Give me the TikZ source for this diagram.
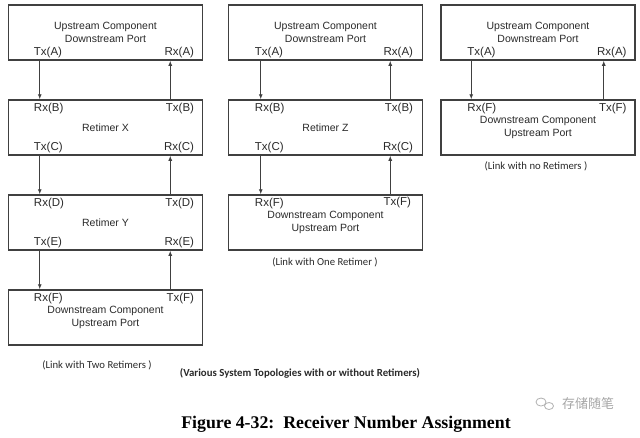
\documentclass[tikz,border=0pt]{standalone}
\usepackage{fontspec}
\setmainfont{Liberation Sans}
\newfontfamily\capfont{Carlito}
\newfontfamily\titlefont{Liberation Serif}
\newfontfamily\cjk{Noto Sans CJK SC}
\usetikzlibrary{arrows.meta,calc}
\definecolor{edge}{HTML}{404040}
\definecolor{ink}{HTML}{2A2A2A}
\tikzset{
  box/.style={draw=edge, line width=1.5pt, minimum width=194pt, minimum height=55pt,
    inner sep=0pt, align=center, text=ink, font=\fontsize{10.5}{13}\selectfont},
  lbl/.style={inner sep=0pt, text=ink, font=\fontsize{11.5}{13}\selectfont},
  arr/.style={draw=edge, line width=0.9pt, -{Latex[length=5pt,width=4pt]}},
  captxt/.style={inner sep=0pt, text=ink, font=\capfont\fontsize{10.7}{12}\selectfont},
}
\begin{document}
\begin{tikzpicture}[x=1pt,y=-1pt]
\useasboundingbox[fill=white] (0,0) rectangle (640,437);

% ---------- Left column: two retimers ----------
\node[box] (aup) at (105.5,32.5) {Upstream Component\\Downstream Port};
\node[box] (ax) at (105.5,127.5) {Retimer X};
\node[box] (ay) at (105.5,222.5) {Retimer Y};
\node[box] (adn) at (105.5,317.5) {Downstream Component\\Upstream Port};

\node[lbl,anchor=west] (aTxA) at ([xshift=26pt,yshift=8pt]aup.south west) {Tx(A)};
\node[lbl,anchor=east] (aRxA) at ([xshift=-9pt,yshift=8pt]aup.south east) {Rx(A)};
\node[lbl,anchor=west] (aRxB) at ([xshift=26pt,yshift=-9pt]ax.north west) {Rx(B)};
\node[lbl,anchor=east] (aTxB) at ([xshift=-9pt,yshift=-9pt]ax.north east) {Tx(B)};
\node[lbl,anchor=west] (aTxC) at ([xshift=26pt,yshift=8pt]ax.south west) {Tx(C)};
\node[lbl,anchor=east] (aRxC) at ([xshift=-9pt,yshift=8pt]ax.south east) {Rx(C)};
\node[lbl,anchor=west] (aRxD) at ([xshift=26pt,yshift=-9pt]ay.north west) {Rx(D)};
\node[lbl,anchor=east] (aTxD) at ([xshift=-9pt,yshift=-9pt]ay.north east) {Tx(D)};
\node[lbl,anchor=west] (aTxE) at ([xshift=26pt,yshift=8pt]ay.south west) {Tx(E)};
\node[lbl,anchor=east] (aRxE) at ([xshift=-9pt,yshift=8pt]ay.south east) {Rx(E)};
\node[lbl,anchor=west] (aRxF) at ([xshift=26pt,yshift=-9pt]adn.north west) {Rx(F)};
\node[lbl,anchor=east] (aTxF) at ([xshift=-9pt,yshift=-9pt]adn.north east) {Tx(F)};

\draw[arr] ([xshift=32pt]aup.south west) -- ([xshift=32pt]ax.north west);
\draw[arr] ([xshift=-33pt]ax.north east) -- ([xshift=-33pt]aup.south east);
\draw[arr] ([xshift=32pt]ax.south west) -- ([xshift=32pt]ay.north west);
\draw[arr] ([xshift=-33pt]ay.north east) -- ([xshift=-33pt]ax.south east);
\draw[arr] ([xshift=32pt]ay.south west) -- ([xshift=32pt]adn.north west);
\draw[arr] ([xshift=-33pt]adn.north east) -- ([xshift=-33pt]ay.south east);

\node[captxt] (acap) at (97,365) {(Link with Two Retimers )};

% ---------- Middle column: one retimer ----------
\node[box] (bup) at (325.5,32.5) {Upstream Component\\Downstream Port};
\node[box] (bz) at (325.5,127.5) {Retimer Z};
\node[box] (bdn) at (325.5,222.5) {Downstream Component\\Upstream Port};

\node[lbl,anchor=west] (bTxA) at ([xshift=27pt,yshift=8pt]bup.south west) {Tx(A)};
\node[lbl,anchor=east] (bRxA) at ([xshift=-10pt,yshift=8pt]bup.south east) {Rx(A)};
\node[lbl,anchor=west] (bRxB) at ([xshift=27pt,yshift=-9pt]bz.north west) {Rx(B)};
\node[lbl,anchor=east] (bTxB) at ([xshift=-10pt,yshift=-9pt]bz.north east) {Tx(B)};
\node[lbl,anchor=west] (bTxC) at ([xshift=27pt,yshift=8pt]bz.south west) {Tx(C)};
\node[lbl,anchor=east] (bRxC) at ([xshift=-10pt,yshift=8pt]bz.south east) {Rx(C)};
\node[lbl,anchor=west] (bRxF) at ([xshift=27pt,yshift=-9pt]bdn.north west) {Rx(F)};
\node[lbl,anchor=east] (bTxF) at ([xshift=-12pt,yshift=-8pt]bdn.north east) {Tx(F)};

\draw[arr] ([xshift=33pt]bup.south west) -- ([xshift=33pt]bz.north west);
\draw[arr] ([xshift=-33pt]bz.north east) -- ([xshift=-33pt]bup.south east);
\draw[arr] ([xshift=33pt]bz.south west) -- ([xshift=33pt]bdn.north west);
\draw[arr] ([xshift=-33pt]bdn.north east) -- ([xshift=-33pt]bz.south east);

\node[captxt] (bcap) at (325,262) {(Link with One Retimer )};

% ---------- Right column: no retimers ----------
\node[box] (cup) at (538,32.5) {Upstream Component\\Downstream Port};
\node[box] (cdn) at (538,127.5) {Downstream Component\\Upstream Port};

\node[lbl,anchor=west] (cTxA) at ([xshift=27pt,yshift=8pt]cup.south west) {Tx(A)};
\node[lbl,anchor=east] (cRxA) at ([xshift=-9pt,yshift=8pt]cup.south east) {Rx(A)};
\node[lbl,anchor=west] (cRxF) at ([xshift=27pt,yshift=-9pt]cdn.north west) {Rx(F)};
\node[lbl,anchor=east] (cTxF) at ([xshift=-9pt,yshift=-9pt]cdn.north east) {Tx(F)};

\draw[arr] ([xshift=31pt]cup.south west) -- ([xshift=31pt]cdn.north west);
\draw[arr] ([xshift=-32pt]cdn.north east) -- ([xshift=-32pt]cup.south east);

\node[captxt] (ccap) at (536,166) {(Link with no Retimers )};

% ---------- Captions ----------
\node[captxt,font=\capfont\bfseries\fontsize{10.8}{12}\selectfont] (topo) at (300,373)
  {(Various System Topologies with or without Retimers)};
\node[inner sep=0pt, text=black, font=\titlefont\bfseries\fontsize{17.8}{20}\selectfont] (title) at (346,424)
  {Figure 4-32:\ \ Receiver Number Assignment};

% ---------- Watermark ----------
\node[inner sep=0pt, text=black!35, font=\cjk\fontsize{13}{15}\selectfont] (wm) at (588,404) {存储随笔};
\draw[black!30, line width=0.8pt] (541,402) ellipse (5pt and 4pt);
\draw[black!30, line width=0.8pt] (549,406) ellipse (4.5pt and 3.5pt);
\end{tikzpicture}
\end{document}
